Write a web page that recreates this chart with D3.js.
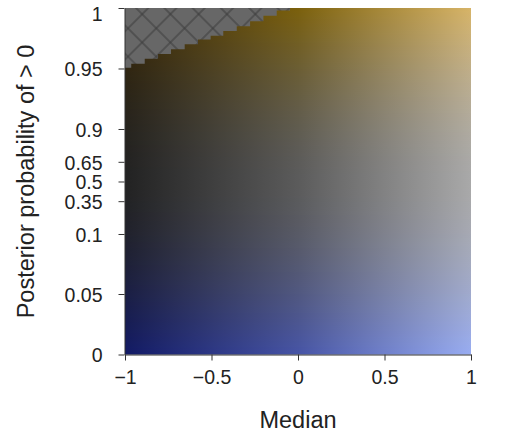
<!DOCTYPE html>
<html>
<head>
<meta charset="utf-8">
<script src="https://cdn.jsdelivr.net/npm/d3@7"></script>
<style>
  body { margin: 0; background: #fff; }
  svg text { font-family: "Liberation Sans", Arial, sans-serif; fill: #222; }
</style>
</head>
<body>
<div id="chart"></div>
<script>
'use strict';

// axis ticks
var medianTicks = [-1, -0.5, 0, 0.5, 1];
var probTicks = [0, 0.05, 0.1, 0.35, 0.5, 0.65, 0.9, 0.95, 1];
// piecewise breaks of the probability axis (equal-ish bands, middle stretched)
var probBreaks = [0, 0.05, 0.1, 0.9, 0.95, 1];
var probBreakPos = [0, 0.1746, 0.3478, 0.6508, 0.8254, 1];

// colour field: rows at p = 0, 0.5, 1; columns at median -1, 0, 1
var medianStops = [-1, 0, 1];
var lowColors = ['#121a66', '#4654a6', '#98acf2'];
var midColors = ['#222222', '#5b5b5b', '#a9a9a9'];
var highColors = ['#3c2800', '#7b600c', '#d7b468'];
var tintPower = 1.6;

// hatched (unreachable) region: column start edges and lower boundary prob
var hatchStart = [-1, -0.964, -0.886, -0.809, -0.734, -0.655, -0.578,
  -0.505, -0.432, -0.354, -0.277, -0.2, -0.123, -0.046];
var hatchProb = [0.9506, 0.954, 0.958, 0.962, 0.966, 0.970, 0.974,
  0.977, 0.981, 0.985, 0.989, 0.9936, 0.998, 1];

var width = 506, height = 440;
var plotLeft = 125, plotRight = 471, plotTop = 8, plotBottom = 354.5;

var svg = d3.select('#chart').append('svg')
  .attr('width', width)
  .attr('height', height);

var x = d3.scaleLinear().domain([-1, 1]).range([plotLeft, plotRight]);
var y = d3.scaleLinear()
  .domain(probBreaks)
  .range(probBreakPos.map(function(f) { return plotBottom - f * (plotBottom - plotTop); }));

var defs = svg.append('defs');

// one horizontal gradient per pixel row
var yMid = y(0.5), yTop = y(1), yBot = y(0);
function rowColors(py) {
  var to, t;
  if (py <= yMid) {
    to = highColors; t = (yMid - py) / (yMid - yTop);
  } else {
    to = lowColors; t = (py - yMid) / (yBot - yMid);
  }
  t = Math.pow(Math.max(0, Math.min(1, t)), tintPower);
  return midColors.map(function(c, i) { return d3.interpolateRgb(c, to[i])(t); });
}

var rows = d3.range(plotTop, plotBottom, 1);
var field = svg.append('g');
rows.forEach(function(py, i) {
  var cols = rowColors(py + 0.5);
  var grad = defs.append('linearGradient')
    .attr('id', 'row' + i)
    .attr('gradientUnits', 'userSpaceOnUse')
    .attr('x1', x(-1)).attr('x2', x(1))
    .attr('y1', 0).attr('y2', 0);
  grad.selectAll('stop').data(medianStops).enter().append('stop')
    .attr('offset', function(m) { return (x(m) - x(-1)) / (x(1) - x(-1)); })
    .attr('stop-color', function(m, j) { return cols[j]; });
  field.append('rect')
    .attr('x', x(-1))
    .attr('y', py)
    .attr('width', x(1) - x(-1))
    .attr('height', Math.min(1.2, plotBottom - py))
    .attr('fill', 'url(#row' + i + ')');
});

// crosshatch pattern
var pat = defs.append('pattern')
  .attr('id', 'hatch')
  .attr('patternUnits', 'userSpaceOnUse')
  .attr('width', 20).attr('height', 20)
  .attr('patternTransform', 'translate(0.7,0) rotate(45)');
pat.append('rect').attr('width', 20).attr('height', 20).attr('fill', '#676767');
pat.append('path')
  .attr('d', 'M0,10H20M10,0V20')
  .attr('stroke', '#3a3a3a')
  .attr('stroke-width', 1)
  .attr('fill', 'none');

var hatchData = hatchStart.map(function(m, i) { return { m: m, p: hatchProb[i] }; });
var area = d3.area()
  .curve(d3.curveStepAfter)
  .x(function(d) { return x(d.m); })
  .y0(function() { return y(1); })
  .y1(function(d) { return y(d.p); });

svg.append('path')
  .datum(hatchData)
  .attr('d', area)
  .attr('fill', 'url(#hatch)');

// axes
var xAxis = d3.axisBottom(x)
  .tickValues(medianTicks)
  .tickSize(6)
  .tickSizeOuter(0)
  .tickPadding(10)
  .tickFormat(d3.format('~g'));
var yAxis = d3.axisLeft(y)
  .tickValues(probTicks)
  .tickSize(6)
  .tickSizeOuter(0)
  .tickPadding(16)
  .tickFormat(d3.format('~g'));

var gx = svg.append('g')
  .attr('transform', 'translate(0,' + plotBottom + ')')
  .call(xAxis);
var gy = svg.append('g')
  .attr('transform', 'translate(' + (plotLeft - 0.5) + ',0)')
  .call(yAxis);

[gx, gy].forEach(function(g) {
  g.selectAll('.domain').attr('stroke', '#333');
  g.selectAll('.tick line').attr('stroke', '#333');
  g.selectAll('.tick text')
    .attr('font-size', '19.5px')
    .attr('font-family', '"Liberation Sans", Arial, sans-serif')
    .attr('fill', '#222');
});
gy.selectAll('.tick text').attr('dy', '0.38em');
gy.select('.tick:last-of-type text').attr('dy', '0.62em');

svg.append('text')
  .attr('x', x(0))
  .attr('y', 428)
  .attr('text-anchor', 'middle')
  .attr('font-size', '23.5px')
  .text('Median');

svg.append('text')
  .attr('transform', 'translate(34,' + 181.5 + ') rotate(-90)')
  .attr('text-anchor', 'middle')
  .attr('font-size', '23.5px')
  .text('Posterior probability of > 0');
</script>
</body>
</html>
